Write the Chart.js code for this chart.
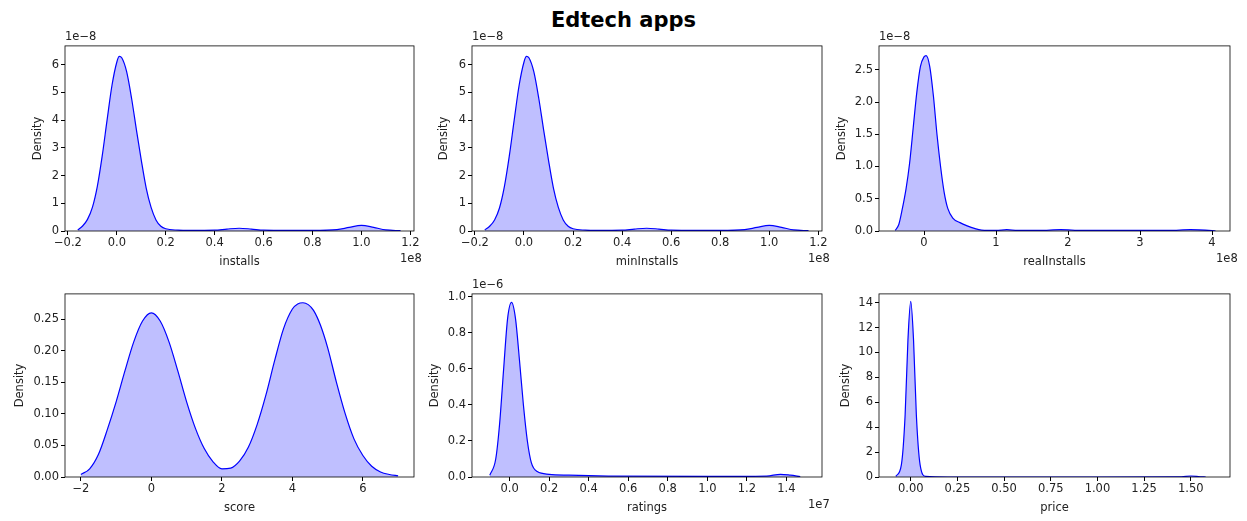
<!DOCTYPE html>
<html>
<head>
<meta charset="utf-8">
<script src="https://cdn.jsdelivr.net/npm/chart.js@4"></script>
<style>
  body { margin:0; width:1247px; height:521px; background:#fff; position:relative; overflow:hidden; font-family:"DejaVu Sans", sans-serif; }
  #title { position:absolute; left:0; width:1247px; top:8px; text-align:center; font-weight:bold; font-size:21px; color:#000; }
  .box { position:absolute; }
  .off { position:absolute; font-size:11.5px; color:#222; }
</style>
</head>
<body>
<div id="title">Edtech apps</div>
<script>
// x in units of the offset (1e8, 1e7), density in units of the offset (1e-8, 1e-6)
const installsX  = [-0.16,-0.14,-0.12,-0.10,-0.08,-0.06,-0.04,-0.02,0.00,0.01,0.02,0.04,0.06,0.08,0.10,0.12,0.14,0.16,0.18,0.20,0.25,0.30,0.40,0.45,0.50,0.55,0.60,0.70,0.80,0.90,0.95,1.00,1.05,1.10,1.16];
const installsY  = [0.04,0.18,0.42,0.85,1.6,2.7,4.0,5.25,6.1,6.3,6.25,5.75,4.8,3.65,2.55,1.55,0.85,0.4,0.17,0.08,0.03,0.02,0.03,0.07,0.1,0.07,0.03,0.02,0.02,0.05,0.13,0.2,0.13,0.04,0.01];
const minInstY   = [0.04,0.17,0.4,0.83,1.6,2.7,4.0,5.25,6.1,6.3,6.25,5.75,4.8,3.65,2.55,1.55,0.85,0.4,0.17,0.08,0.03,0.02,0.03,0.07,0.1,0.07,0.03,0.02,0.02,0.05,0.13,0.2,0.13,0.04,0.01];
const realX      = [-0.40,-0.35,-0.30,-0.25,-0.20,-0.15,-0.10,-0.05,0.00,0.03,0.08,0.13,0.18,0.23,0.28,0.33,0.40,0.50,0.60,0.70,0.80,1.00,1.15,1.30,1.60,1.90,2.20,2.70,3.00,3.40,3.70,4.00,4.05];
const realY      = [0.01,0.1,0.35,0.65,1.05,1.6,2.15,2.55,2.7,2.72,2.55,2.1,1.5,1.0,0.6,0.35,0.2,0.13,0.08,0.04,0.015,0.01,0.02,0.01,0.01,0.02,0.01,0.01,0.01,0.01,0.02,0.005,0];
const scoreX     = [-2,-1.75,-1.5,-1.25,-1,-0.75,-0.5,-0.25,0,0.25,0.5,0.75,1,1.25,1.5,1.75,2,2.25,2.5,2.75,3,3.25,3.5,3.75,4,4.15,4.3,4.45,4.6,4.8,5,5.25,5.5,5.75,6,6.25,6.5,6.75,7];
const scoreY     = [0.004,0.013,0.036,0.075,0.119,0.168,0.214,0.247,0.26,0.247,0.214,0.168,0.119,0.077,0.045,0.024,0.013,0.014,0.025,0.047,0.083,0.13,0.185,0.235,0.266,0.274,0.276,0.273,0.264,0.24,0.205,0.15,0.1,0.06,0.034,0.017,0.008,0.004,0.002];
const ratingsX   = [-0.10,-0.07,-0.05,-0.03,-0.01,0.01,0.03,0.05,0.07,0.09,0.11,0.14,0.20,0.30,0.50,1.00,1.30,1.37,1.42,1.47];
const ratingsY   = [0.01,0.1,0.3,0.6,0.88,0.97,0.88,0.65,0.4,0.2,0.08,0.03,0.015,0.01,0.005,0.003,0.005,0.015,0.01,0.002];
const priceX     = [-0.08,-0.05,-0.03,-0.015,0,0.015,0.03,0.05,0.08,0.2,1.0,1.45,1.5,1.55,1.58];
const priceY     = [0.05,1,5,11,14.1,11,5,1,0.05,0,0,0.02,0.08,0.02,0];

const installsTicks = [-0.2,0,0.2,0.4,0.6,0.8,1.0,1.2];
const densInstTicks = [0,1,2,3,4,5,6];
const realTicks     = [0,1,2,3,4];
const densRealTicks = [0,0.5,1,1.5,2,2.5];
const scoreTicks    = [-2,0,2,4,6];
const densScoreTicks= [0,0.05,0.1,0.15,0.2,0.25];
const ratingsTicks  = [0,0.2,0.4,0.6,0.8,1.0,1.2,1.4];
const densRatTicks  = [0,0.2,0.4,0.6,0.8,1.0];
const priceTicks    = [0,0.25,0.5,0.75,1.0,1.25,1.5];
const densPriceTicks= [0,2,4,6,8,10,12,14];

const panels = [
  {x:installsX, y:installsY, label:'installs', xt:installsTicks, yt:densInstTicks, xr:[-0.212,1.215], ymax:6.68, dx:1, dy:0, yOff:'1e\u22128', xOff:'1e8', rect:[65,45,414,231], yw:34},
  {x:installsX, y:minInstY, label:'minInstalls', xt:installsTicks, yt:densInstTicks, xr:[-0.212,1.215], ymax:6.68, dx:1, dy:0, yOff:'1e\u22128', xOff:'1e8', rect:[472,45,822,231], yw:35},
  {x:realX, y:realY, label:'realInstalls', xt:realTicks, yt:densRealTicks, xr:[-0.625,4.25], ymax:2.87, dx:0, dy:1, yOff:'1e\u22128', xOff:'1e8', rect:[879,45,1230,231], yw:44},
  {x:scoreX, y:scoreY, label:'score', xt:scoreTicks, yt:densScoreTicks, xr:[-2.45,7.45], ymax:0.29, dx:0, dy:2, yOff:'', xOff:'', rect:[65,293,414,477], yw:52},
  {x:ratingsX, y:ratingsY, label:'ratings', xt:ratingsTicks, yt:densRatTicks, xr:[-0.19,1.58], ymax:1.017, dx:1, dy:1, yOff:'1e\u22126', xOff:'1e7', rect:[472,293,822,477], yw:44},
  {x:priceX, y:priceY, label:'price', xt:priceTicks, yt:densPriceTicks, xr:[-0.17,1.71], ymax:14.7, dx:2, dy:0, yOff:'', xOff:'', rect:[879,293,1230,477], yw:40}
];

const frame = {
  id:'frame',
  afterDraw(chart) {
    const a = chart.chartArea, c = chart.ctx;
    c.save(); c.strokeStyle = '#000'; c.lineWidth = 0.8;
    c.strokeRect(a.left, a.top, a.right - a.left, a.bottom - a.top);
    c.restore();
  }
};

const FONT = {family:'DejaVu Sans', size:11.5};
const PADT = 8, PADR = 12, XH = 38;

panels.forEach(p => {
  const [l,t,r,b] = p.rect;
  const div = document.createElement('div');
  div.className = 'box';
  div.style.left = (l - p.yw) + 'px';
  div.style.top = (t - PADT) + 'px';
  div.style.width = (r - l + p.yw + PADR) + 'px';
  div.style.height = (b - t + PADT + XH) + 'px';
  const cv = document.createElement('canvas');
  div.appendChild(cv);
  document.body.appendChild(div);

  if (p.yOff) {
    const o = document.createElement('div'); o.className = 'off';
    o.style.left = l + 'px'; o.style.top = (t - 16) + 'px'; o.textContent = p.yOff;
    document.body.appendChild(o);
  }
  if (p.xOff) {
    const o = document.createElement('div'); o.className = 'off';
    o.style.left = (r - 14) + 'px'; o.style.top = (b + 20) + 'px'; o.textContent = p.xOff;
    document.body.appendChild(o);
  }

  new Chart(cv, {
    type:'line',
    data:{datasets:[{
      data:p.x.map((v,i)=>({x:v, y:p.y[i]})),
      borderColor:'#0000ff', borderWidth:1.2, backgroundColor:'rgba(0,0,255,0.25)',
      fill:'origin', pointRadius:0, tension:0.4, cubicInterpolationMode:'monotone'
    }]},
    options:{
      responsive:true, maintainAspectRatio:false, animation:false,
      layout:{padding:{top:PADT, right:PADR, left:0, bottom:0}},
      plugins:{legend:{display:false}, tooltip:{enabled:false}},
      scales:{
        x:{type:'linear', min:p.xr[0], max:p.xr[1],
          afterBuildTicks:s => { s.ticks = p.xt.map(v=>({value:v})); },
          afterFit:s => { s.height = XH; },
          ticks:{font:FONT, color:'#222', padding:1, maxRotation:0, autoSkip:false, callback:v => v.toFixed(p.dx).replace('-', '\u2212')},
          grid:{drawOnChartArea:false, tickLength:4, color:'#000'},
          border:{display:false},
          title:{display:true, text:p.label, font:FONT, color:'#222', padding:{top:0,bottom:0}}
        },
        y:{type:'linear', min:0, max:p.ymax,
          afterBuildTicks:s => { s.ticks = p.yt.map(v=>({value:v})); },
          afterFit:s => { s.width = p.yw; },
          ticks:{font:FONT, color:'#222', padding:2, autoSkip:false, callback:v => v.toFixed(p.dy)},
          grid:{drawOnChartArea:false, tickLength:4, color:'#000'},
          border:{display:false},
          title:{display:true, text:'Density', font:FONT, color:'#222', padding:{top:0,bottom:0}}
        }
      }
    },
    plugins:[frame]
  });
});
</script>
</body>
</html>
